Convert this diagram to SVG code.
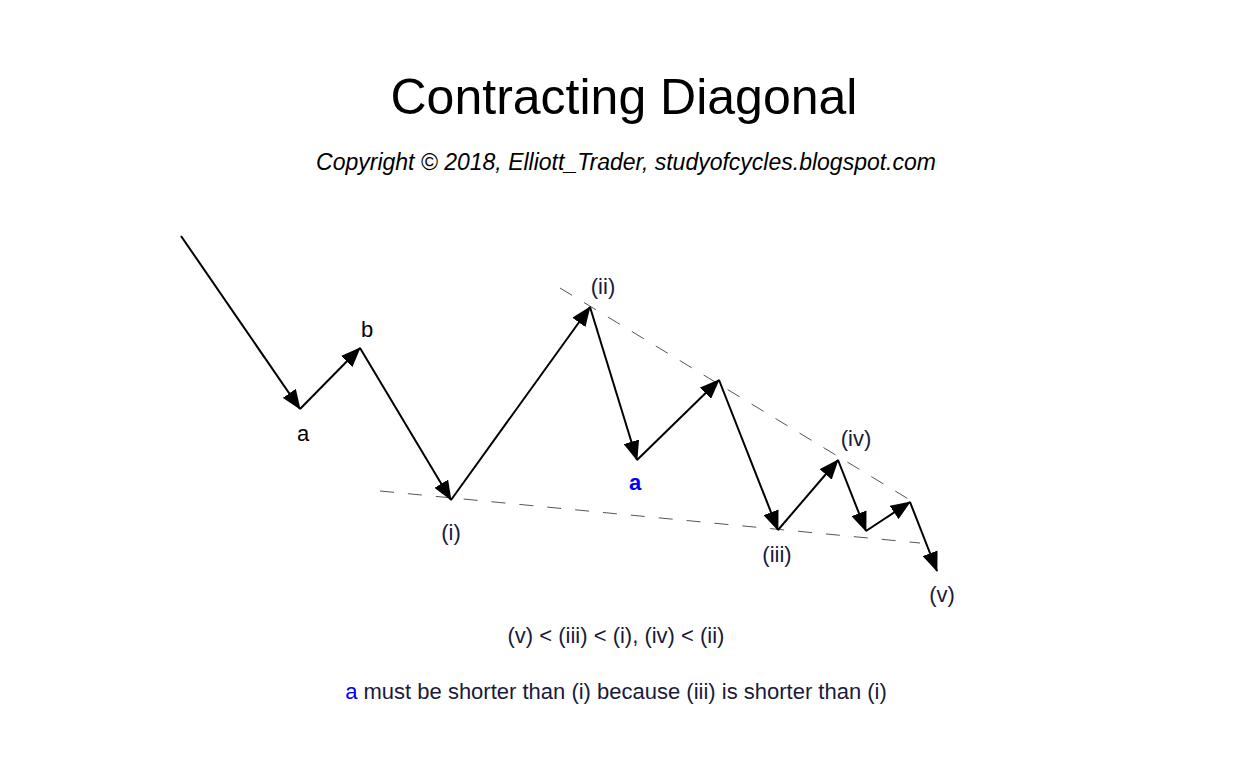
<svg xmlns="http://www.w3.org/2000/svg" width="1248" height="768" viewBox="0 0 1248 768">
<style>
text{font-family:"Liberation Sans",Arial,sans-serif;fill:#000}
.l{font-size:22px}
.n{font-size:22px;fill:#1a1a3a}
.w{stroke:#000;stroke-width:2;fill:none;marker-end:url(#ah)}
.d{stroke:#555;stroke-width:1;stroke-dasharray:14,14;fill:none}
</style>
<defs>
<marker id="ah" markerWidth="10" markerHeight="8" refX="9.5" refY="4" orient="auto" markerUnits="strokeWidth"><path d="M0,0 L10,4 L0,8 z" fill="#000"/></marker>
</defs>
<rect width="1248" height="768" fill="#fff"/>
<text x="624" y="114" font-size="50" text-anchor="middle">Contracting Diagonal</text>
<text x="626" y="170" font-size="23" font-style="italic" text-anchor="middle">Copyright © 2018, Elliott_Trader, studyofcycles.blogspot.com</text>
<g id="connectors">
<line class="d" x1="380" y1="491" x2="920" y2="543"/>
<line class="d" x1="560" y1="288" x2="910" y2="500"/>
<line class="w" x1="181" y1="236" x2="300" y2="409"/>
<line class="w" x1="300" y1="409" x2="360" y2="348"/>
<line class="w" x1="360" y1="348" x2="451" y2="500"/>
<line class="w" x1="451" y1="500" x2="590" y2="307"/>
<line class="w" x1="590" y1="307" x2="637" y2="460"/>
<line class="w" x1="637" y1="460" x2="719" y2="380"/>
<line class="w" x1="719" y1="380" x2="778" y2="530"/>
<line class="w" x1="778" y1="530" x2="838" y2="460"/>
<line class="w" x1="838" y1="460" x2="866" y2="531"/>
<line class="w" x1="866" y1="531" x2="910" y2="502"/>
<line class="w" x1="910" y1="502" x2="937" y2="571"/>
</g>
<g id="label-a"><text class="l" x="303" y="441" text-anchor="middle">a</text></g>
<g id="label-b"><text class="l" x="367" y="337" text-anchor="middle">b</text></g>
<g id="label-i"><text class="n" x="451" y="540" text-anchor="middle">(i)</text></g>
<g id="label-ii"><text class="n" x="603" y="294" text-anchor="middle">(ii)</text></g>
<g id="label-a2"><text x="635" y="490" font-size="22" font-weight="bold" fill="#0000ff" style="fill:#0000ff" text-anchor="middle">a</text></g>
<g id="label-iii"><text class="n" x="777" y="562" text-anchor="middle">(iii)</text></g>
<g id="label-iv"><text class="n" x="856" y="446" text-anchor="middle">(iv)</text></g>
<g id="label-v"><text class="n" x="942" y="602" text-anchor="middle">(v)</text></g>
<text class="n" x="616" y="643" text-anchor="middle">(v) &lt; (iii) &lt; (i), (iv) &lt; (ii)</text>
<text class="n" x="616" y="699" text-anchor="middle"><tspan style="fill:#0000ff">a</tspan> must be shorter than (i) because (iii) is shorter than (i)</text>
</svg>
